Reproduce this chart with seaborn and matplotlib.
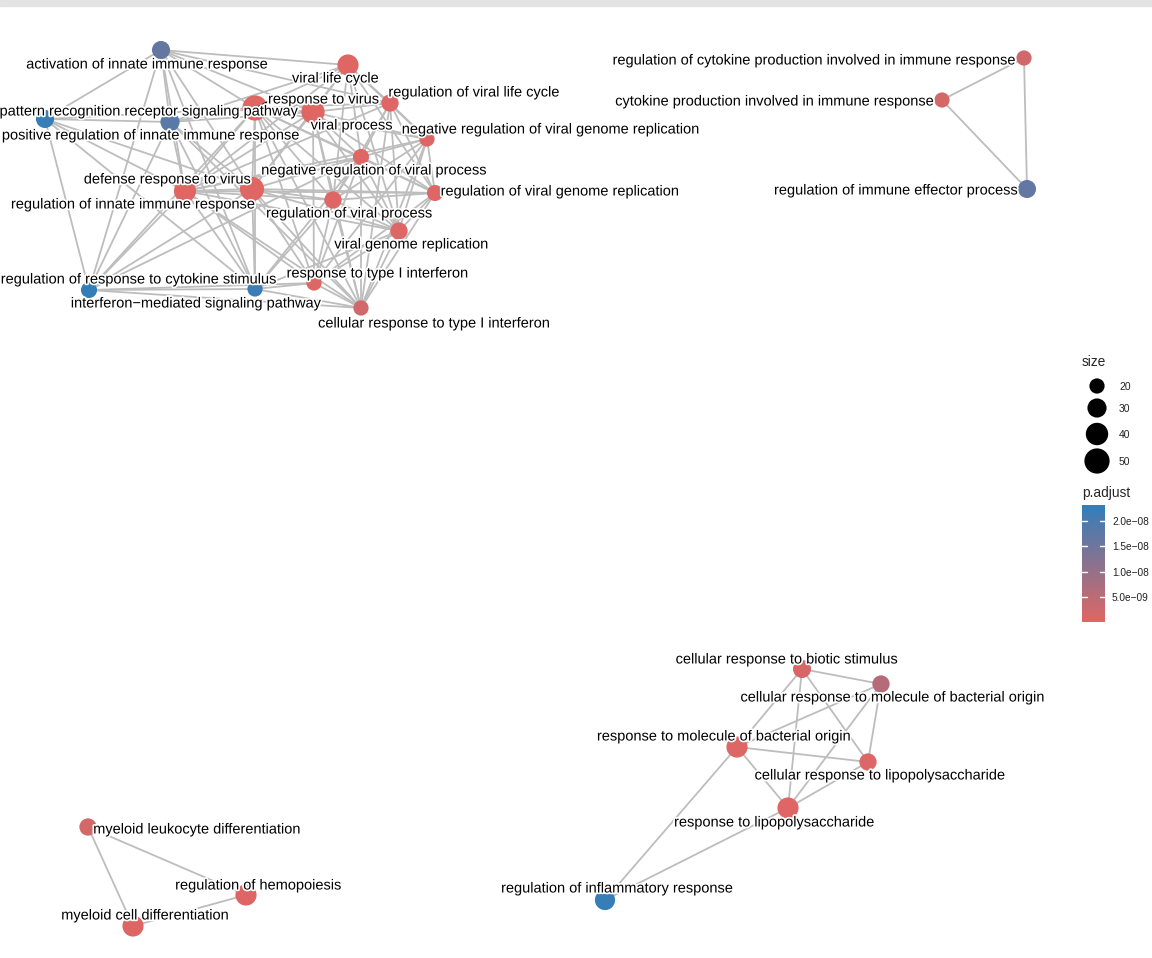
import matplotlib
matplotlib.use("Agg")
import matplotlib.pyplot as plt
import matplotlib.patheffects as pe
from matplotlib.collections import LineCollection
from matplotlib.colors import LinearSegmentedColormap, Normalize
from matplotlib.patches import Rectangle
import pandas as pd
import seaborn as sns

sns.set_theme(style="white")
plt.rcParams["font.family"] = ["Liberation Sans", "DejaVu Sans"]

# node keys and GO terms
keys = ["A", "VLC", "RV", "VP", "RVLC", "NRVGR", "NRVP", "RVGR", "DRV", "RII",
        "RVP", "VGR", "RRCS", "IMSP", "RT1", "CRT1", "PRR", "PRII",
        "RCPIIR", "CPIIR", "RIEP",
        "CRBS", "CRMBO", "RMBO", "CRLPS", "RLPS", "RIR",
        "MLD", "RH", "MCD"]
terms = ["activation of innate immune response", "viral life cycle", "response to virus",
         "viral process", "regulation of viral life cycle",
         "negative regulation of viral genome replication",
         "negative regulation of viral process", "regulation of viral genome replication",
         "defense response to virus", "regulation of innate immune response",
         "regulation of viral process", "viral genome replication",
         "regulation of response to cytokine stimulus",
         "interferon\u2212mediated signaling pathway", "response to type I interferon",
         "cellular response to type I interferon",
         "pattern recognition receptor signaling pathway",
         "positive regulation of innate immune response",
         "regulation of cytokine production involved in immune response",
         "cytokine production involved in immune response",
         "regulation of immune effector process",
         "cellular response to biotic stimulus",
         "cellular response to molecule of bacterial origin",
         "response to molecule of bacterial origin",
         "cellular response to lipopolysaccharide", "response to lipopolysaccharide",
         "regulation of inflammatory response",
         "myeloid leukocyte differentiation", "regulation of hemopoiesis",
         "myeloid cell differentiation"]

# layout coordinates (graph layout, screen units)
node_x = [161, 348, 255, 313, 390, 427, 361, 435, 185, 252,
          333, 399, 89, 255, 314, 361, 45, 170,
          1024, 942, 1027,
          802, 881, 737, 868, 788, 605,
          88, 246, 133]
node_y = [50, 65, 108, 112, 103, 139, 157, 193, 191, 189,
          200, 231, 290, 289, 283, 308, 119, 122,
          58, 100, 189,
          669, 684, 747, 762, 808, 900,
          827, 895, 926]
gene_count = [27, 36, 50, 43, 25, 18, 22, 22, 39, 46,
              25, 25, 22, 16, 16, 12, 27, 30,
              18, 18, 27,
              27, 25, 36, 25, 36, 33,
              25, 36, 36]
p_adjust = [1.65e-8, 1e-10, 5e-11, 5e-11, 3e-10, 4e-10, 2e-10, 3e-10, 5e-11, 1e-10,
            2e-10, 3e-10, 2.3e-8, 2.2e-8, 6e-10, 2e-9, 2.25e-8, 1.8e-8,
            2e-9, 1.8e-9, 1.68e-8,
            1.2e-9, 5.8e-9, 3e-10, 8e-10, 2e-10, 2.25e-8,
            1.8e-9, 4e-10, 4e-10]
label_x = [148, 336, 324, 352, 475, 552, 375, 561, 168, 134,
           350, 412, 140, 197, 378, 435, 150, 152,
           816, 776, 897,
           788, 894, 725, 881, 775, 618,
           198, 259, 146]
label_y = [63, 77, 98, 124, 91, 128, 169, 190, 178, 203,
           212, 243, 278, 302, 272, 322, 110, 134,
           59, 100, 189,
           658, 696, 735, 774, 821, 887,
           828, 884, 914]

viral = ["VLC", "VP", "RVLC", "NRVGR", "NRVP", "RVGR", "RVP", "VGR"]
edges = [(a, b) for i, a in enumerate(viral) for b in viral[i + 1:]]
edges += [("RV", k) for k in viral + ["DRV", "RII", "A", "PRR", "PRII", "RRCS", "IMSP", "RT1", "CRT1"]]
edges += [("DRV", k) for k in viral + ["RII", "A", "PRR", "PRII", "RRCS", "IMSP", "RT1", "CRT1"]]
edges += [("RII", k) for k in ["VLC", "VP", "NRVP", "RVP", "RVGR", "VGR", "A", "PRII", "PRR",
                               "RRCS", "IMSP", "RT1", "CRT1"]]
edges += [("A", k) for k in ["PRR", "PRII", "RRCS", "IMSP", "VLC", "VP", "RVLC"]]
edges += [("PRR", k) for k in ["PRII", "RRCS", "IMSP"]]
edges += [("PRII", k) for k in ["RRCS", "IMSP", "VP", "VLC", "CRT1"]]
edges += [("RRCS", k) for k in ["IMSP", "RT1", "CRT1", "NRVP"]]
edges += [("IMSP", k) for k in ["RT1", "CRT1", "RVP", "VGR", "NRVP"]]
edges += [("RT1", k) for k in ["CRT1", "VGR", "RVGR", "RVP", "NRVP", "VP", "NRVGR"]]
edges += [("CRT1", k) for k in ["VGR", "RVGR", "RVP", "NRVP", "NRVGR", "VP", "RVLC"]]
edges += [("RCPIIR", "CPIIR"), ("RCPIIR", "RIEP"), ("CPIIR", "RIEP")]
bact = ["CRBS", "CRMBO", "RMBO", "CRLPS", "RLPS"]
edges += [(a, b) for i, a in enumerate(bact) for b in bact[i + 1:]]
edges += [("RIR", "RMBO"), ("RIR", "RLPS")]
edges += [("MLD", "RH"), ("MLD", "MCD"), ("RH", "MCD")]

size_levels = [20, 30, 40, 50]
padj_ticks = [5e-9, 1e-8, 1.5e-8, 2e-8]
padj_tick_labels = ["5.0e\u221209", "1.0e\u221208", "1.5e\u221208", "2.0e\u221208"]

W, H = 1152, 958
fig = plt.figure(figsize=(W / 100, H / 100), dpi=100)
ax = fig.add_axes([0, 0, 1, 1])

df = pd.DataFrame({"x": node_x, "y": node_y, "count": gene_count, "p_adjust": p_adjust,
                   "term": terms, "lx": label_x, "ly": label_y}, index=keys)

cmap = LinearSegmentedColormap.from_list("padj", ["#e06663", "#327eba"])
norm = Normalize(1e-12, 2.32e-8)
size_range = (120, 330)

# edges
segs = [[(df.loc[a, "x"], df.loc[a, "y"]), (df.loc[b, "x"], df.loc[b, "y"])] for a, b in edges]
ax.add_collection(LineCollection(segs, colors="#bdbdbd", linewidths=1.3, zorder=1))

# nodes
sns.scatterplot(data=df, x="x", y="y", hue="p_adjust", size="count", palette=cmap,
                hue_norm=norm, sizes=size_range, size_norm=(20, 50), legend=False,
                linewidth=0, ax=ax, zorder=3)

# labels
halo = [pe.withStroke(linewidth=2.5, foreground="white")]
for _, r in df.iterrows():
    ax.text(r["lx"], r["ly"] + 1.5, r["term"], fontsize=10.5, ha="center", va="center",
            color="black", zorder=5, path_effects=halo)
# repel segment for "response to virus"
ax.plot([267, 258], [102, 107], color="black", lw=0.9, zorder=4)

# size legend
ax.text(1082, 362, "size", fontsize=9.9, ha="left", va="center")
leg_y = [386, 408, 434, 461]
sns.scatterplot(x=[1097] * 4, y=leg_y, size=size_levels, sizes=size_range,
                size_norm=(20, 50), color="black", linewidth=0, legend=False, ax=ax)
for yy, lv in zip(leg_y, size_levels):
    ax.text(1119, yy + 1, str(lv), fontsize=7.5, ha="left", va="center", color="#222222")

ax.set_xlim(0, W)
ax.set_ylim(H, 0)
ax.axis("off")

# colour bar
ax.text(1082, 493, "p.adjust", fontsize=9.9, ha="left", va="center")
cax = fig.add_axes([1082 / W, 1 - 622 / H, 23 / W, 117 / H])
cb = fig.colorbar(plt.cm.ScalarMappable(norm=norm, cmap=cmap), cax=cax, ticks=padj_ticks)
cb.outline.set_visible(False)
cb.ax.set_yticklabels(padj_tick_labels)
cb.ax.tick_params(length=0, labelsize=7.3, pad=5, labelcolor="#222222")
for t in padj_ticks:
    cax.plot([0, 0.2], [t, t], color="white", lw=1, transform=cax.get_yaxis_transform())
    cax.plot([0.8, 1], [t, t], color="white", lw=1, transform=cax.get_yaxis_transform())

# grey strip at the top of the screenshot
fig.patches.append(Rectangle((0, 1 - 6 / H), 1, 6 / H, transform=fig.transFigure,
                             color="#e3e3e3", zorder=10))

fig.savefig("out.png", dpi=100)
